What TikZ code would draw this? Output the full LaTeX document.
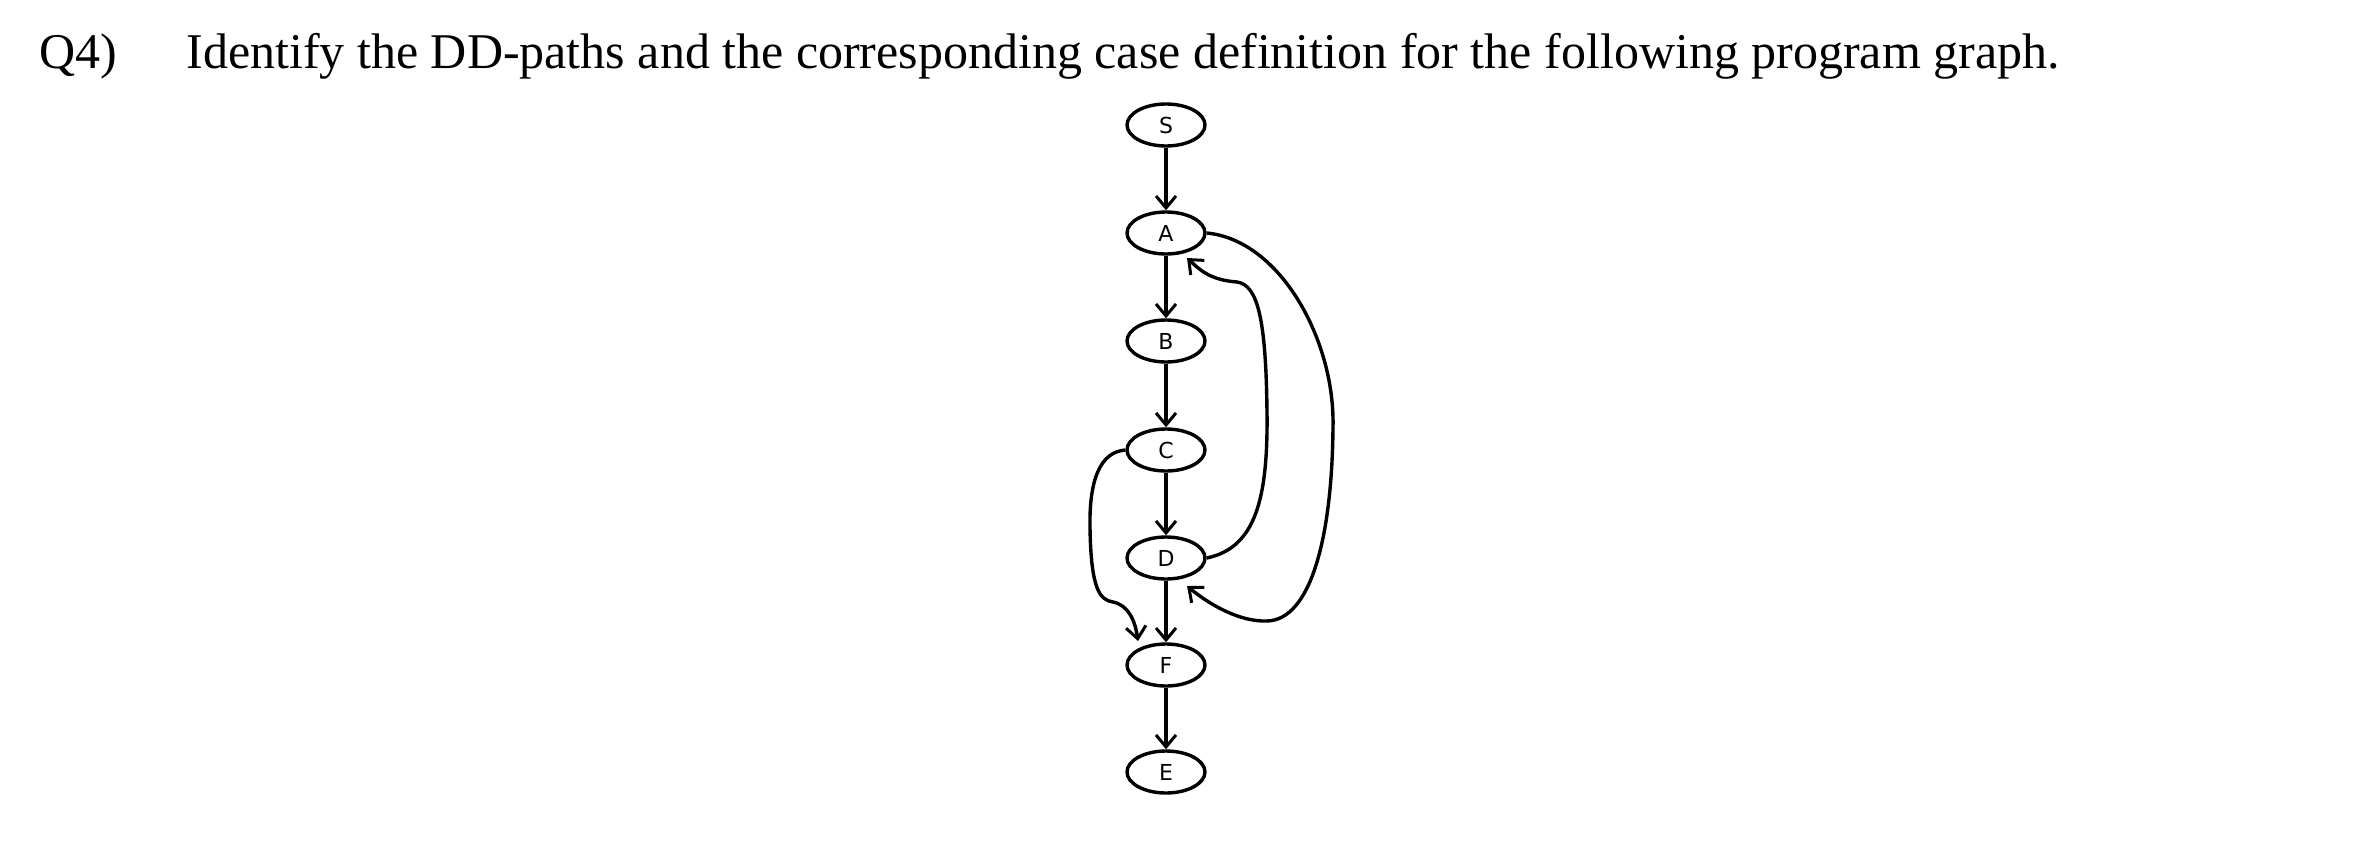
\documentclass[tikz,border=0pt]{standalone}
\usepackage{fontspec}
\usetikzlibrary{arrows.meta,shapes.geometric}
\setmainfont{Liberation Serif}
\newfontfamily\lblfont{DejaVu Sans}
\begin{document}
\begin{tikzpicture}[x=1pt,y=-1pt,
  vtx/.style={draw,ellipse,line width=3.4pt,minimum width=78pt,minimum height=42pt,inner sep=0pt,font=\lblfont\fontsize{22}{22}\selectfont},
  edge/.style={line width=3.4pt,-{Straight Barb[length=12pt,width=20pt,line width=3pt]}}]
\useasboundingbox (0,0) rectangle (2368,851);
\node[anchor=base west,font=\fontsize{50}{60}\selectfont] (q) at (36,68) {Q4)};
\node[anchor=base west,font=\fontsize{50}{60}\selectfont] (t) at (183,68) {Identify the DD-paths and the corresponding case definition for the following program graph.};
\node[vtx] (S) at (1166,125) {S};
\node[vtx] (A) at (1166,233) {A};
\node[vtx] (B) at (1166,341) {B};
\node[vtx] (C) at (1166,450) {C};
\node[vtx] (D) at (1166,558) {D};
\node[vtx] (F) at (1166,665) {F};
\node[vtx] (E) at (1166,772) {E};
\draw[edge] (S) -- (A);
\draw[edge] (A) -- (B);
\draw[edge] (B) -- (C);
\draw[edge] (C) -- (D);
\draw[edge] (D) -- (F);
\draw[edge] (F) -- (E);
\draw[edge] (A.east) .. controls (1280,240) and (1335,340) .. (1333,427)
  .. controls (1332,540) and (1310,620) .. (1267,621)
  .. controls (1240,622) and (1210,605) .. (1187,586);
\draw[edge] (D.east) .. controls (1255,548) and (1268,500) .. (1267,413)
  .. controls (1266,320) and (1258,285) .. (1237,282)
  .. controls (1210,280) and (1200,270) .. (1187,258);
\draw[edge] (C.west) .. controls (1100,452) and (1089,480) .. (1090,528)
  .. controls (1091,590) and (1100,600) .. (1113,602)
  .. controls (1128,605) and (1135,620) .. (1138,641);
\end{tikzpicture}
\end{document}
